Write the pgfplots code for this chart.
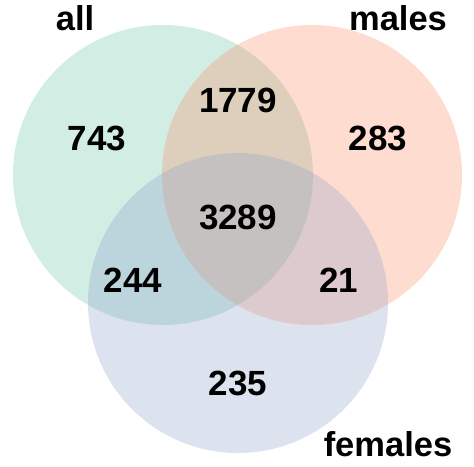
\documentclass[border=0pt]{standalone}
\usepackage{pgfplots}
\pgfplotsset{compat=1.18}
\usepackage{fontspec}
\setmainfont{Liberation Sans}

\definecolor{setgreen}{HTML}{66C2A5}
\definecolor{setorange}{HTML}{FC8D62}
\definecolor{setblue}{HTML}{8DA0CB}

\begin{document}
\begin{tikzpicture}
\begin{axis}[
  width=474pt, height=466pt, scale only axis,
  xmin=0, xmax=474, ymin=0, ymax=466, y dir=reverse,
  hide axis, clip=false,
  venn/.style={only marks, mark=*, mark size=150pt, draw=none,
    mark options={draw=none, draw opacity=0, fill=#1, fill opacity=0.3}},
  lbl/.style={only marks, mark=none, point meta=explicit symbolic,
    nodes near coords, nodes near coords align={center},
    every node near coord/.append style={anchor=center, inner sep=0pt,
      font=\fontsize{#1}{#1}\selectfont\bfseries, text=black}},
]
% circles: all, males, females
\addplot[venn=setgreen]  coordinates {(163,175)};
\addplot[venn=setorange] coordinates {(312,175)};
\addplot[venn=setblue]   coordinates {(238,303)};
% region counts
\addplot[lbl=35] table[meta=label] {
x   y   label
97  138 743
238 100 1779
378 138 283
238 217 3289
133 280 244
339 280 21
238 383 235
};
% set names
\addplot[lbl=34.5] table[meta=label] {
x   y   label
75  18  all
398 18  males
388 444 females
};
\end{axis}
\pgfresetboundingbox
\useasboundingbox (current axis.south west) rectangle (current axis.north east);
\end{tikzpicture}
\end{document}
